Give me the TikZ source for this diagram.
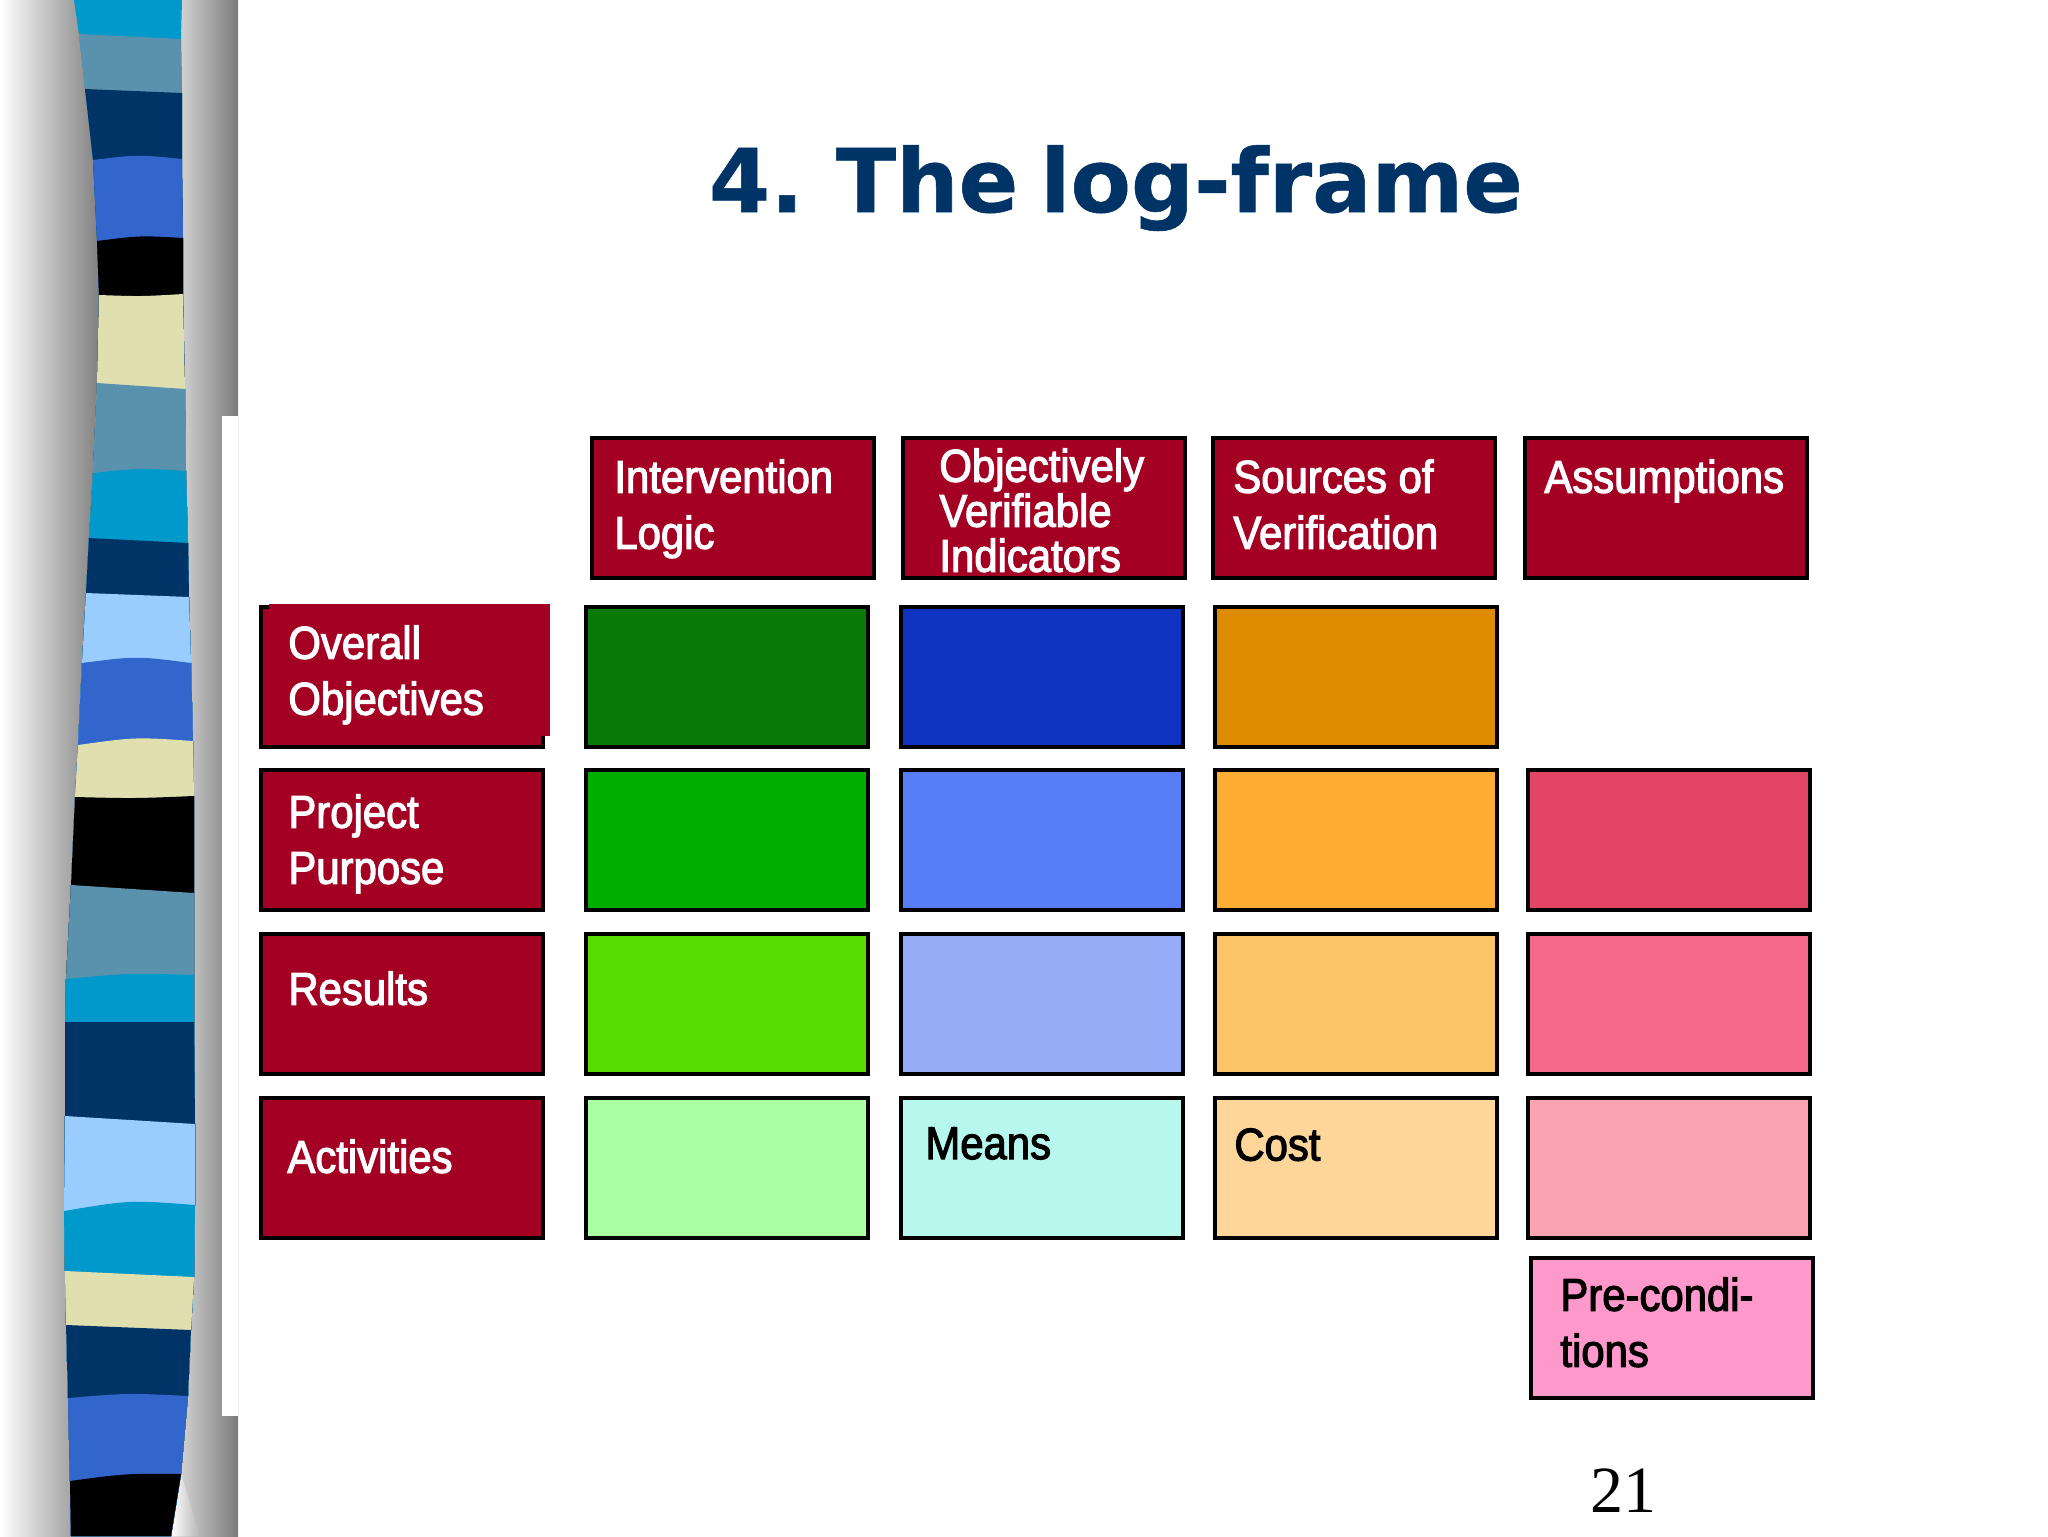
\documentclass[tikz,border=0pt]{standalone}
\usepackage{fontspec}
\setmainfont{Liberation Sans}
\newfontfamily\boxfont[FakeStretch=0.91,FakeBold=2.5]{Liberation Sans}
\newfontfamily\titlefont[FakeStretch=1.0,WordSpace=0.72,FakeBold=0.6]{DejaVu Sans}
\newfontfamily\numfont{Liberation Serif}
\definecolor{stripcyan}{HTML}{0099CC}
\definecolor{stripsteel}{HTML}{5A92AE}
\definecolor{stripnavy}{HTML}{003366}
\definecolor{stripblue}{HTML}{3366CC}
\definecolor{stripcream}{HTML}{DFDFB0}
\definecolor{striplight}{HTML}{99CCFF}
\definecolor{framered}{HTML}{A30023}
\tikzset{
  cell/.style={draw=black,line width=2.4pt,fill=#1,anchor=north west,outer sep=0pt,inner sep=0pt,
    minimum width=141pt,minimum height=70pt},
  boxlabel/.style={anchor=north west,align=left,inner sep=0pt,text=#1,
    font=\boxfont\fontsize{23}{28}\selectfont},
}
\begin{document}
\begin{tikzpicture}[x=0.5pt,y=-0.5pt]
  \useasboundingbox (0,0) rectangle (2048,1536);
  \fill[white] (0,0) rectangle (2048,1536);
  % folded band down the left edge
  \shade[left color=white,right color=black!50] (0,0) rectangle (100,1536);
  \shade[left color=black!12,right color=black!52] (171,0) rectangle (238,1536);
  \fill[white] (222,416) rectangle (238,1416);
  \shade[left color=white,right color=black!29] (181,1474) -- (171,1536) -- (200,1536) -- cycle;
  \begin{scope}
    \clip (74,0) -- (79,34) -- (85,89) -- (93,160) -- (97,241) -- (99,295) -- (97,383) -- (93,473)
      -- (89,538) -- (86,593) -- (82,663) -- (78,745) -- (75,797) -- (71,885) -- (66,979) -- (65,1022)
      -- (65,1116) -- (64,1211) -- (65,1271) -- (66,1325) -- (68,1398) -- (70,1481) -- (71,1536)
      -- (171,1536) -- (181,1474) -- (188,1396) -- (191,1330) -- (194,1277) -- (195,1205) -- (195,1124)
      -- (194,1022) -- (194,893) -- (194,796) -- (193,741) -- (191,663) -- (189,597) -- (188,543)
      -- (186,471) -- (185,389) -- (183,294) -- (183,238) -- (182,159) -- (182,93) -- (181,39) -- (182,0) -- cycle;
    \foreach \col/\xl/\yl/\xr/\yr/\bow in {
      stripcyan/74/0/182/0/0, stripsteel/79/34/181/39/0, stripnavy/85/89/182/93/0,
      stripblue/93/160/182/159/2.5, black/97/241/183/238/2, stripcream/99/295/183/294/-1,
      stripsteel/97/383/185/389/0, stripcyan/93/473/186/471/2, stripnavy/89/538/188/543/0,
      striplight/86/593/189/597/0, stripblue/82/663/191/663/3.5, stripcream/78/745/193/741/3,
      black/75/797/194/796/-1, stripsteel/71/885/194/893/0, stripcyan/66/979/194/975/2,
      stripnavy/65/1022/194/1022/0, striplight/65/1116/195/1124/0, stripcyan/64/1211/195/1205/4,
      stripcream/65/1271/194/1277/0, stripnavy/66/1325/191/1330/0, stripblue/68/1398/188/1396/2,
      black/70/1481/181/1474/2}
      \fill[\col] (0,\yl) -- (\xl,\yl) .. controls ({(\xl+\xr)/2},{(\yl+\yr)/2-2*\bow}) .. (\xr,\yr)
        -- (260,\yr) -- (260,1540) -- (0,1540) -- cycle;
  \end{scope}
  % title and page number
  \node[anchor=base,inner sep=0pt,text=stripnavy,font=\titlefont\bfseries\fontsize{44}{50}\selectfont] (title) at (1116,212) {4. The log-frame};
  \node[anchor=base west,inner sep=0pt,font=\numfont\fontsize{33}{40}\selectfont] (pagenum) at (1590,1512) {21};
  % boxes of the matrix
  \foreach \name/\x/\y/\col in {
    headlogic/592/438/framered, headind/903/438/framered, headsrc/1213/438/framered, headass/1525/438/framered,
    rowover/261/607/framered, rowpurp/261/770/framered, rowres/261/934/framered, rowact/261/1098/framered,
    overlogic/586/607/{rgb,255:red,7;green,122;blue,7}, overind/901/607/{rgb,255:red,15;green,51;blue,192}, oversrc/1215/607/{rgb,255:red,224;green,140;blue,0},
    purplogic/586/770/{rgb,255:red,0;green,174;blue,0}, purpind/901/770/{rgb,255:red,87;green,126;blue,246}, purpsrc/1215/770/{rgb,255:red,255;green,173;blue,51}, purpass/1528/770/{rgb,255:red,227;green,70;blue,100},
    reslogic/586/934/{rgb,255:red,88;green,221;blue,0}, resind/901/934/{rgb,255:red,150;green,171;blue,246}, ressrc/1215/934/{rgb,255:red,251;green,196;blue,103}, resass/1528/934/{rgb,255:red,244;green,104;blue,138},
    actlogic/586/1098/{rgb,255:red,170;green,255;blue,163}, actind/901/1098/{rgb,255:red,182;green,248;blue,238}, actsrc/1215/1098/{rgb,255:red,255;green,214;blue,153}, actass/1528/1098/{rgb,255:red,249;green,163;blue,179},
    preass/1531/1258/{rgb,255:red,255;green,153;blue,204}}
    \node[cell=\col] (\name) at (\x,\y) {};
  % red patch that sits over the first row label
  \fill[framered] (269,604) rectangle (549.5,736);
  % texts
  \node[boxlabel=white] (txtlogic) at (614,459) {Intervention\\Logic};
  \node[boxlabel=white,font=\boxfont\fontsize{23}{22.5}\selectfont] (txtind) at (939,448) {Objectively\\Verifiable\\Indicators};
  \node[boxlabel=white] (txtsrc) at (1233,459) {Sources of\\Verification};
  \node[boxlabel=white] (txtass) at (1544,459) {Assumptions};
  \node[boxlabel=white] (txtover) at (288,625) {Overall\\Objectives};
  \node[boxlabel=white] (txtpurp) at (288,794) {Project\\Purpose};
  \node[boxlabel=white] (txtres) at (288,971) {Results};
  \node[boxlabel=white] (txtact) at (287,1139) {Activities};
  \node[boxlabel=black] (txtmeans) at (925,1127) {Means};
  \node[boxlabel=black] (txtcost) at (1234,1128) {Cost};
  \node[boxlabel=black] (txtpre) at (1560,1277) {Pre-condi-\\tions};
\end{tikzpicture}
\end{document}
